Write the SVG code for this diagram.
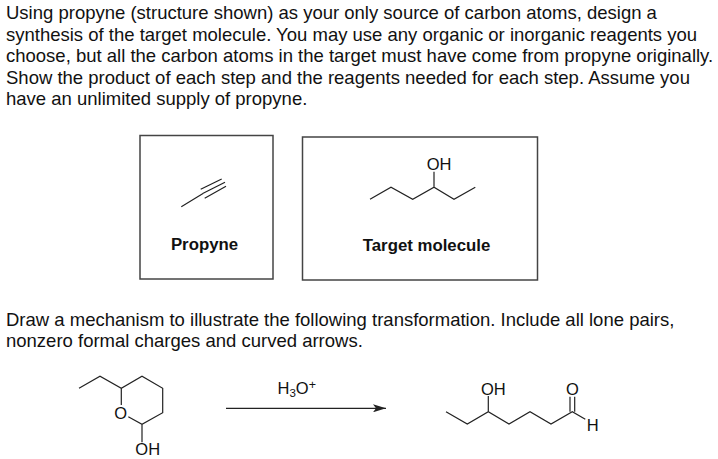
<svg xmlns="http://www.w3.org/2000/svg" width="718" height="459" viewBox="0 0 718 459">
<defs><marker id="arrow" markerUnits="userSpaceOnUse" markerWidth="13" markerHeight="8" refX="13" refY="4" orient="auto"><path d="M0 0L13 4L0 8L3 4Z" fill="#222"/></marker></defs>
<style>
text{font-family:"Liberation Sans",Arial,sans-serif;fill:#111}
.p{font-size:18.5px}
.b{font-size:16.8px;font-weight:bold;text-anchor:middle}
.a{font-size:16.5px;text-anchor:middle}
.bond{fill:none;stroke:#222;stroke-width:1.2}
.box{fill:none;stroke:#444;stroke-width:1.5}
</style>
<rect width="718" height="459" fill="#fff"/>
<g id="question1">
<text class="p" x="6" y="19">Using propyne (structure shown) as your only source of carbon atoms, design a</text>
<text class="p" x="6" y="41">synthesis of the target molecule. You may use any organic or inorganic reagents you</text>
<text class="p" x="6" y="62">choose, but all the carbon atoms in the target must have come from propyne originally.</text>
<text class="p" x="6" y="84">Show the product of each step and the reagents needed for each step. Assume you</text>
<text class="p" x="6" y="105">have an unlimited supply of propyne.</text>
</g>
<g id="propyne">
<rect class="box" x="140" y="135.500" width="133" height="143.500"/>
<path class="bond" d="M181.300 206.700L203 193.500M200.700 189.300L221.700 179M202.700 193.500L225 182.300M204.700 198.300L226 186.300"/>
<text class="b" x="204.500" y="249.500">Propyne</text>
</g>
<g id="target">
<rect class="box" x="302.500" y="137" width="235" height="143"/>
<path class="bond" d="M370 199.300L391 187.300L412.700 199.300L434 187.300L454 199.300L475.300 187.300M434 187.300V171.700"/>
<text class="a" x="439" y="169.500">OH</text>
<text class="b" x="426.500" y="250.500">Target molecule</text>
</g>
<g id="question2">
<text class="p" x="6" y="325.500">Draw a mechanism to illustrate the following transformation. Include all lone pairs,</text>
<text class="p" x="6" y="346.500">nonzero formal charges and curved arrows.</text>
</g>
<g id="reactant">
<path class="bond" d="M79 388.300L100 376.300L121.300 388.300L142 376.300L162.700 388.300V412.700L142 424.300L128.300 416.700M121.300 388.300V405M142 424.300V442.300"/>
<text class="a" x="120.700" y="418.500">O</text>
<text class="a" x="147.700" y="455">OH</text>
</g>
<g id="connectors">
<path class="bond" d="M226 408.300H386" marker-end="url(#arrow)"/>
</g>
<g id="reagent">
<text x="277.500" y="394" font-size="16.500">H<tspan font-size="11.500" dy="3">3</tspan><tspan dy="-3">O</tspan><tspan font-size="12.500" dy="-5">+</tspan></text>
</g>
<g id="product">
<path class="bond" d="M446 411.700L467.300 424L488.300 411.700L509 424L530 411.700L551 424L572.300 411.700L585.300 419.300M488.300 411.700V396M570 411.700V396.700M574.700 411.700V396.700"/>
<text class="a" x="493.300" y="395">OH</text>
<text class="a" x="572.300" y="395">O</text>
<text class="a" x="592.700" y="431">H</text>
</g>
</svg>
